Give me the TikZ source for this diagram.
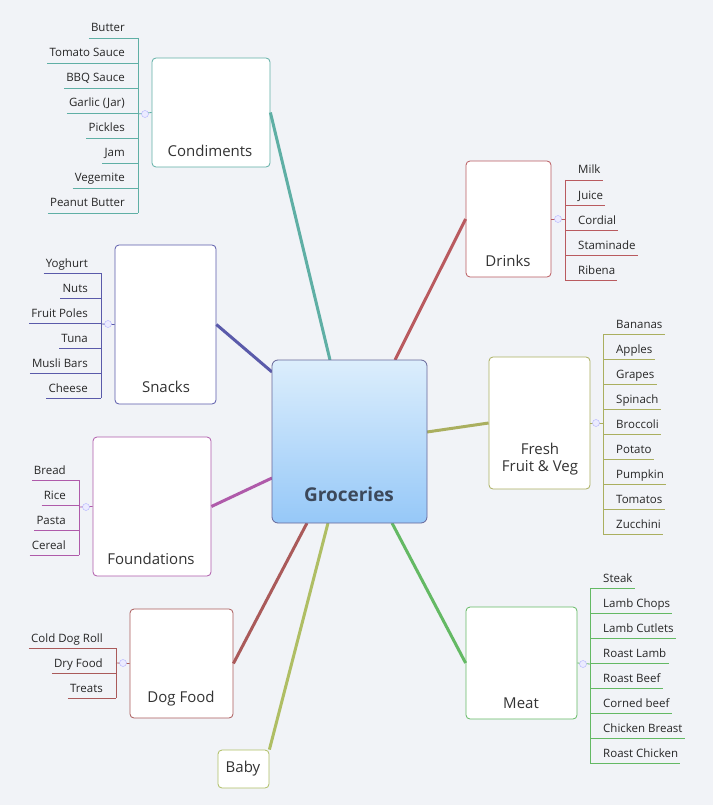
\documentclass[tikz,border=0pt]{standalone}
\usepackage{fontspec}
\setmainfont{Open Sans}
\begin{document}
\begin{tikzpicture}[x=1pt,y=-1pt,
  leaf/.style={font=\fontsize{11.5}{13}\selectfont, inner sep=2pt, text=black!85},
  box/.style={draw=#1, fill=white, rounded corners=4pt, line width=0.8pt},
  blab/.style={font=\fontsize{15}{17}\selectfont, text=black!80, align=center},
  conn/.style={draw=#1, line width=3pt},
  dot/.style={circle, draw=blue!30, fill=blue!8, inner sep=0pt, minimum size=7pt}]
\definecolor{bg}{RGB}{241,243,247}
\definecolor{cteal}{RGB}{95,175,165}
\definecolor{cred}{RGB}{185,90,95}
\definecolor{colive}{RGB}{170,175,95}
\definecolor{cgreen}{RGB}{100,185,100}
\definecolor{cblue}{RGB}{90,90,170}
\definecolor{cpurp}{RGB}{175,90,170}
\definecolor{cdog}{RGB}{170,90,90}
\definecolor{cbaby}{RGB}{175,190,100}
\definecolor{ctop}{RGB}{220,238,252}
\definecolor{cbot}{RGB}{150,200,248}
\definecolor{ctext}{RGB}{60,72,90}
\fill[bg] (0,0) rectangle (713,805);
\useasboundingbox (0,0) rectangle (713,805);
% boxes
\node[box=cteal, minimum width=118, minimum height=109] (cond) at (211,112.5) {};
\node[blab] at (210,151) {Condiments};
\node[box=cred, minimum width=85, minimum height=116] (drk) at (508.5,219) {};
\node[blab] at (508,261) {Drinks};
\node[box=colive, minimum width=101, minimum height=132] (fv) at (539.5,423) {};
\node[blab] at (540,459) {Fresh\\Fruit \& Veg};
\node[box=cgreen, minimum width=111, minimum height=112] (meat) at (521.5,663) {};
\node[blab] at (521,703) {Meat};
\node[box=cblue, minimum width=101, minimum height=159] (snk) at (165.5,324.5) {};
\node[blab] at (166,387) {Snacks};
\node[box=cpurp, minimum width=118, minimum height=139] (fnd) at (152,506.5) {};
\node[blab] at (151,559) {Foundations};
\node[box=cdog, minimum width=103, minimum height=109] (dog) at (181.5,663.5) {};
\node[blab] at (181,699) {Dog Food};
\node[box=cbaby, minimum width=51, minimum height=38] (baby) at (243.5,769) {};
\node[blab] at (243,769) {Baby};
% connectors
\coordinate (c1) at (330,360); \coordinate (c2) at (395,360); \coordinate (c3) at (427,432);
\coordinate (c4) at (392,523); \coordinate (c5) at (272,372); \coordinate (c6) at (272,478);
\coordinate (c7) at (307,523); \coordinate (c8) at (328,523);
\draw[conn=cteal] (cond.east) -- (c1);
\draw[conn=cred] (drk.west) -- (c2);
\draw[conn=colive] (fv.west) -- (c3);
\draw[conn=cgreen] (meat.west) -- (c4);
\draw[conn=cblue] (snk.east) -- (c5);
\draw[conn=cpurp] (fnd.east) -- (c6);
\draw[conn=cdog] (dog.east) -- (c7);
\draw[conn=cbaby] (baby.north east) -- (c8);
% centre
\node[draw=gray!80!blue, rounded corners=6pt, line width=0.8pt, top color=ctop, bottom color=cbot, minimum width=155, minimum height=163] (ctr) at (349.5,441.5) {};
\node[font=\fontsize{19}{21}\selectfont\bfseries, text=ctext] at (349,494) {Groceries};
% leaves
\newcommand\leftleaves[5]{%
  \foreach \t [count=\i] in {#5} {
    \pgfmathsetmacro\yy{#2+25*(\i-1)}
    \node[leaf, anchor=base east] (#4\i) at (#1-11,\yy-6) {\t};
    \draw[#3, line width=0.8pt] (#4\i.west |- 0,\yy) -- (#1,\yy);
  }}
\newcommand\rightleaves[5]{%
  \foreach \t [count=\i] in {#5} {
    \pgfmathsetmacro\yy{#2+25*(\i-1)}
    \node[leaf, anchor=base west] (#4\i) at (#1+11,\yy-6) {\t};
    \draw[#3, line width=0.8pt] (#1,\yy) -- (#4\i.east |- 0,\yy);
  }}
\leftleaves{138}{38}{cteal}{cl}{Butter,Tomato Sauce,BBQ Sauce,Garlic (Jar),Pickles,Jam,Vegemite,Peanut Butter}
\draw[cteal, line width=0.8pt] (138,38) -- (138,213);
\draw[cteal, line width=0.8pt] (138,114) -- (cond.west);
\node[dot] (cd) at (145,114) {};
\rightleaves{565}{180}{cred}{dl}{Milk,Juice,Cordial,Staminade,Ribena}
\draw[cred, line width=0.8pt] (565,180) -- (565,280);
\draw[cred, line width=0.8pt] (565,219) -- (drk.east);
\node[dot] (dd) at (558,219) {};
\rightleaves{603}{334}{colive}{fl}{Bananas,Apples,Grapes,Spinach,Broccoli,Potato,Pumpkin,Tomatos,Zucchini}
\draw[colive, line width=0.8pt] (603,334) -- (603,534);
\draw[colive, line width=0.8pt] (603,423) -- (fv.east);
\node[dot] (fd) at (596,423) {};
\rightleaves{590}{588}{cgreen}{ml}{Steak,Lamb Chops,Lamb Cutlets,Roast Lamb,Roast Beef,Corned beef,Chicken Breast,Roast Chicken}
\draw[cgreen, line width=0.8pt] (590,588) -- (590,763);
\draw[cgreen, line width=0.8pt] (590,664) -- (meat.east);
\node[dot] (md) at (583,664) {};
\leftleaves{101}{273}{cblue}{sl}{Yoghurt,Nuts,Fruit Poles,Tuna,Musli Bars,Cheese}
\draw[cblue, line width=0.8pt] (101,273) -- (101,398);
\draw[cblue, line width=0.8pt] (101,324) -- (snk.west);
\node[dot] (sd) at (108,324) {};
\leftleaves{79}{480}{cpurp}{ol}{Bread,Rice,Pasta,Cereal}
\draw[cpurp, line width=0.8pt] (79,480) -- (79,555);
\draw[cpurp, line width=0.8pt] (79,507) -- (fnd.west);
\node[dot] (od) at (86,507) {};
\leftleaves{116}{648}{cdog}{gl}{Cold Dog Roll,Dry Food,Treats}
\draw[cdog, line width=0.8pt] (116,648) -- (116,698);
\draw[cdog, line width=0.8pt] (116,663) -- (dog.west);
\node[dot] (gd) at (123,663) {};
\end{tikzpicture}
\end{document}
